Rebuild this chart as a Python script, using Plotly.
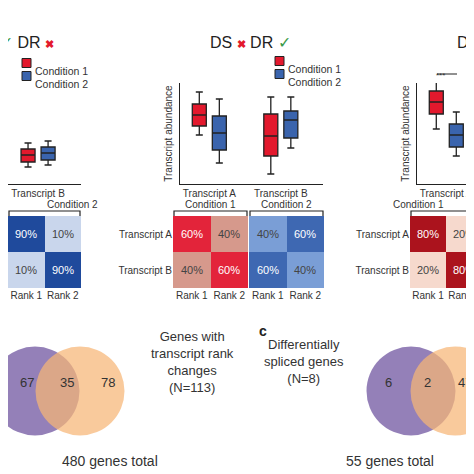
import plotly.graph_objects as go

W = 474
RED = "#e3192d"
BLUE = "#3a64ad"

# box stats (arbitrary abundance units): lower, q1, median, q3, upper
left_b = {"Condition 1": [17, 22, 29, 35, 41], "Condition 2": [19, 24, 31, 37, 43]}
mid_a = {"Condition 1": [49, 58, 69, 80, 92], "Condition 2": [21, 34, 51, 68, 85]}
mid_b = {"Condition 1": [10, 28, 48, 70, 87], "Condition 2": [36, 46, 64, 73, 87]}
right_a = {"Condition 1": [55, 70, 82, 93, 105], "Condition 2": [28, 37, 49, 60, 72]}

ranks = ["Rank 1", "Rank 2"]
transcripts = ["Transcript A", "Transcript B"]
left_cond2 = [[90, 10], [10, 90]]
mid_cond1 = [[60, 40], [40, 60]]
mid_cond2 = [[40, 60], [60, 40]]
right_cond1 = [[80, 20], [20, 80]]

venn_left = [67, 35, 78]
venn_right = [6, 2, 47]


def fx(p):
    return p / W


def fy(p):
    return 1 - p / W


fig = go.Figure()


def add_boxes(panel, xa, ya):
    for cond, col in [("Condition 1", RED), ("Condition 2", BLUE)]:
        xs, lo, q1, md, q3, hi = [], [], [], [], [], []
        for tname, d in panel:
            s = d[cond]
            xs.append(tname); lo.append(s[0]); q1.append(s[1]); md.append(s[2]); q3.append(s[3]); hi.append(s[4])
        fig.add_trace(go.Box(x=xs, lowerfence=lo, q1=q1, median=md, q3=q3, upperfence=hi,
                             name=cond, offsetgroup=cond, fillcolor=col, showlegend=False,
                             line=dict(color="#222", width=1.3), whiskerwidth=0.5,
                             xaxis=xa, yaxis=ya))


add_boxes([("Transcript A", {"Condition 1": [0]*5, "Condition 2": [0]*5}), ("Transcript B", left_b)], "x", "y")
add_boxes([("Transcript A", mid_a), ("Transcript B", mid_b)], "x2", "y2")
add_boxes([("Transcript A", right_a)], "x3", "y3")

red_scale = [[0, "#ffffff"], [0.2, "#f6d9cd"], [0.4, "#d6998c"], [0.6, "#e3243a"], [0.8, "#ab131d"], [1, "#8a0010"]]
blue_scale = [[0, "#ffffff"], [0.1, "#c9d6ec"], [0.4, "#7a9ed6"], [0.6, "#3e68b2"], [0.9, "#1f4a9c"], [1, "#1a4090"]]


def add_heat(z, scale, xa, ya):
    fig.add_trace(go.Heatmap(z=z, x=ranks, y=transcripts, colorscale=scale, zmin=0, zmax=100,
                             showscale=False, texttemplate="%{z}%", textfont=dict(size=11),
                             xgap=0, ygap=0, xaxis=xa, yaxis=ya, hoverinfo="skip"))


add_heat(left_cond2, blue_scale, "x4", "y4")
add_heat(mid_cond1, red_scale, "x5", "y5")
add_heat(mid_cond2, blue_scale, "x6", "y6")
add_heat(right_cond1, red_scale, "x7", "y7")

font = dict(family="Liberation Sans, Arial", size=10, color="#333")
yd = [fy(176), fy(75)]
box_ax = dict(type="category", showline=True, linecolor="#222", linewidth=1.3, ticks="",
              tickfont=font, showgrid=False, zeroline=False, fixedrange=True)
yax = dict(range=[0, 101], showticklabels=False, showgrid=False, zeroline=False, ticks="")
hx = dict(side="bottom", tickfont=font, showgrid=False, ticks="", ticklen=0)
hy = dict(autorange="reversed", tickfont=font, showgrid=False, ticks="")
hd = [fy(280), fy(208)]

fig.update_layout(
    width=W, height=W, margin=dict(l=0, r=0, t=0, b=0),
    paper_bgcolor="white", plot_bgcolor="white",
    boxmode="group", boxgap=0.44, boxgroupgap=0.3, showlegend=False,
    font=font,
    xaxis=dict(box_ax, domain=[0, fx(73)], range=[0.58, 1.6], anchor="y"),
    yaxis=dict(yax, domain=yd, anchor="x", showline=False),
    xaxis2=dict(box_ax, domain=[fx(172), fx(315)], range=[-0.41, 1.59], anchor="y2"),
    yaxis2=dict(yax, domain=yd, anchor="x2", showline=True, linecolor="#222", linewidth=1.3,
                title=dict(text="Transcript abundance", font=font, standoff=4)),
    xaxis3=dict(box_ax, domain=[fx(409), 1], range=[-0.41, 0.5], anchor="y3"),
    yaxis3=dict(yax, domain=yd, anchor="x3", showline=True, linecolor="#222", linewidth=1.3,
                title=dict(text="Transcript abundance", font=font, standoff=4)),
    xaxis4=dict(hx, domain=[0, fx(73)], anchor="y4"),
    yaxis4=dict(hy, domain=hd, anchor="x4", showticklabels=False),
    xaxis5=dict(hx, domain=[fx(165), fx(240)], anchor="y5"),
    yaxis5=dict(hy, domain=hd, anchor="x5"),
    xaxis6=dict(hx, domain=[fx(241), fx(316)], anchor="y6"),
    yaxis6=dict(hy, domain=hd, anchor="x6", showticklabels=False),
    xaxis7=dict(hx, domain=[fx(402), 1], anchor="y7"),
    yaxis7=dict(hy, domain=hd, anchor="x7"),
)

shapes = []
ann = []
P = dict(xref="paper", yref="paper", showarrow=False)

# condition brackets
for x0, x1, lab in [(0, 73, "Condition 2"), (165, 240, "Condition 1"), (241, 316, "Condition 2"), (402, 474, "Condition 1")]:
    shapes.append(dict(type="path", xref="paper", yref="paper",
                       path=f"M {fx(x0+1)},{fy(208)} L {fx(x0+1)},{fy(203)} L {fx(x1-1)},{fy(203)} L {fx(x1-1)},{fy(208)}",
                       line=dict(color="#222", width=1.2)))
    ann.append(dict(P, x=fx((x0 + x1) / 2), y=fy(197), text=lab, font=dict(font, size=10)))

# legends
for lx, ly in [(14, 55), (267, 53)]:
    for i, (lab, col) in enumerate([("Condition 1", RED), ("Condition 2", BLUE)]):
        y0 = ly + i * 13
        shapes.append(dict(type="rect", xref="paper", yref="paper", x0=fx(lx), x1=fx(lx + 9),
                           y0=fy(y0 - 4.5), y1=fy(y0 + 4.5), fillcolor=col, line=dict(color="#222", width=1)))
        ann.append(dict(P, x=fx(lx + 11), y=fy(y0), text=lab, xanchor="left", font=dict(font, size=10.5)))

# significance
shapes.append(dict(type="line", xref="paper", yref="paper", x0=fx(429), x1=fx(449), y0=fy(66), y1=fy(66),
                   line=dict(color="#222", width=1)))
ann.append(dict(P, x=fx(439), y=fy(61), text="***", font=dict(font, size=8)))

# titles
tf = dict(family="Liberation Sans, Arial", size=16, color="#222")
X = "<span style='color:#e3192d;font-size:11px'><b>✖</b></span>"
C = "<span style='color:#3a9a4a'>✓</span>"
ann.append(dict(P, x=0, y=fy(24), text=f"{C} DR {X}", xanchor="left", xshift=-10, font=tf))
ann.append(dict(P, x=fx(243), y=fy(24), text=f"DS {X} DR {C}", font=tf))
ann.append(dict(P, x=fx(447), y=fy(24), text="DS", xanchor="left", font=tf))

# venn circles
PUR = "#9480b8"
ORA = "#f6b576"
for cx_p, cx_o, vals in [(27, 72, venn_left), (403, 447, venn_right)]:
    r = 44.5
    shapes.append(dict(type="circle", xref="paper", yref="paper", x0=fx(cx_p - r), x1=fx(cx_p + r),
                       y0=fy(383 + r), y1=fy(383 - r), fillcolor=PUR, line=dict(width=0), layer="below"))
    shapes.append(dict(type="circle", xref="paper", yref="paper", x0=fx(cx_o - r), x1=fx(cx_o + r),
                       y0=fy(383 + r), y1=fy(383 - r), fillcolor=ORA, opacity=0.72, line=dict(width=0), layer="below"))
    for xx, v in zip([cx_p - 17, (cx_p + cx_o) / 2, cx_o + 19], vals):
        ann.append(dict(P, x=fx(xx), y=fy(384), text=str(v),
                        font=dict(family="Liberation Sans, Arial", size=13, color="#333")))

bf = dict(family="Liberation Sans, Arial", size=13, color="#333")
ann.append(dict(P, x=fx(184), y=fy(389), text="Genes with<br>transcript rank<br>changes<br>(N=113)", font=bf))
ann.append(dict(P, x=fx(296), y=fy(380), text="Differentially<br>spliced genes<br>(N=8)", font=bf))
ann.append(dict(P, x=fx(255), y=fy(333), text="<b>c</b>", font=dict(bf, size=14, color="#222")))
ann.append(dict(P, x=fx(52), y=fy(463), text="480 genes total", font=dict(bf, size=14)))
ann.append(dict(P, x=fx(428), y=fy(463), text="55 genes total", font=dict(bf, size=14)))

fig.update_layout(shapes=shapes, annotations=ann)
fig.write_html("out.html")
